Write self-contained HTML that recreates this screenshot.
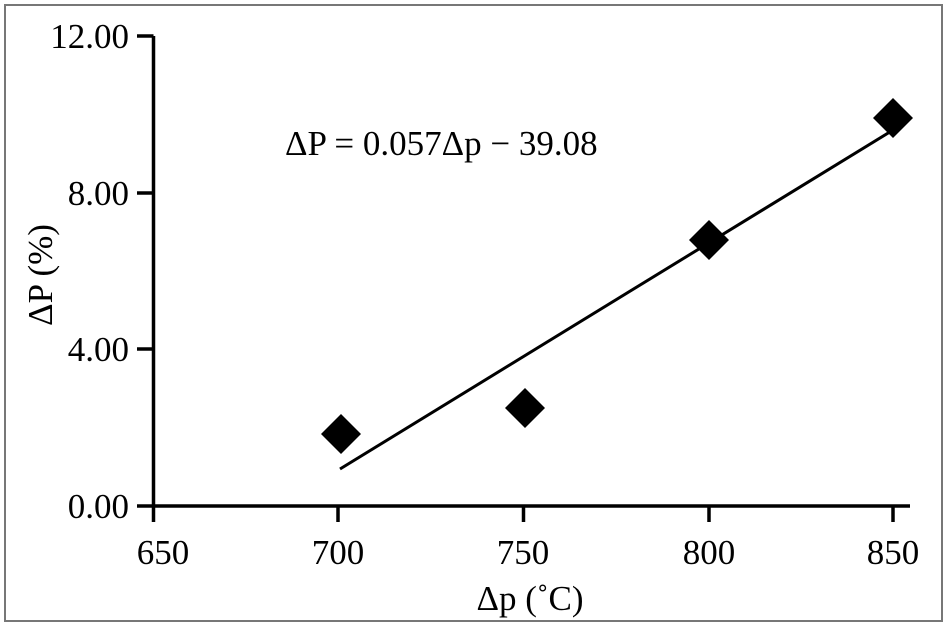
<!DOCTYPE html>
<html><head><meta charset="utf-8"><style>body{margin:0;background:#fff}</style></head><body>
<svg width="947" height="627" xmlns="http://www.w3.org/2000/svg" font-family="Liberation Serif, serif" fill="#000">
<rect x="5" y="5" width="937" height="616" fill="#fff" stroke="#777" stroke-width="2"/>
<g stroke="#000" stroke-width="3.5" fill="none">
<line x1="153.5" y1="36" x2="153.5" y2="522"/>
<line x1="137" y1="506" x2="910" y2="506"/>
<line x1="137" y1="36" x2="153.5" y2="36"/>
<line x1="137" y1="193" x2="153.5" y2="193"/>
<line x1="137" y1="349" x2="153.5" y2="349"/>
<line x1="338" y1="506" x2="338" y2="522"/>
<line x1="523.5" y1="506" x2="523.5" y2="522"/>
<line x1="709" y1="506" x2="709" y2="522"/>
<line x1="893" y1="506" x2="893" y2="522"/>
<line x1="340" y1="469" x2="893" y2="130" stroke-width="3"/>
</g>
<g font-size="35" text-anchor="end">
<text x="129" y="48">12.00</text>
<text x="129" y="205">8.00</text>
<text x="129" y="361">4.00</text>
<text x="129" y="518">0.00</text>
</g>
<g font-size="35" text-anchor="middle">
<text x="163" y="564">650</text>
<text x="338" y="564">700</text>
<text x="523" y="564">750</text>
<text x="709" y="564">800</text>
<text x="893" y="564">850</text>
<text x="530" y="610">Δp (˚C)</text>
<text transform="translate(52,275) rotate(-90)">ΔP (%)</text>
</g>
<text x="285" y="155" font-size="35">ΔP = 0.057Δp − 39.08</text>
<g>
<polygon points="341,414 361,434 341,454 321,434"/>
<polygon points="525,388 545,408 525,428 505,408"/>
<polygon points="709,220 729,240 709,260 689,240"/>
<polygon points="893,98 913,118 893,138 873,118"/>
</g>
</svg>
</body></html>
